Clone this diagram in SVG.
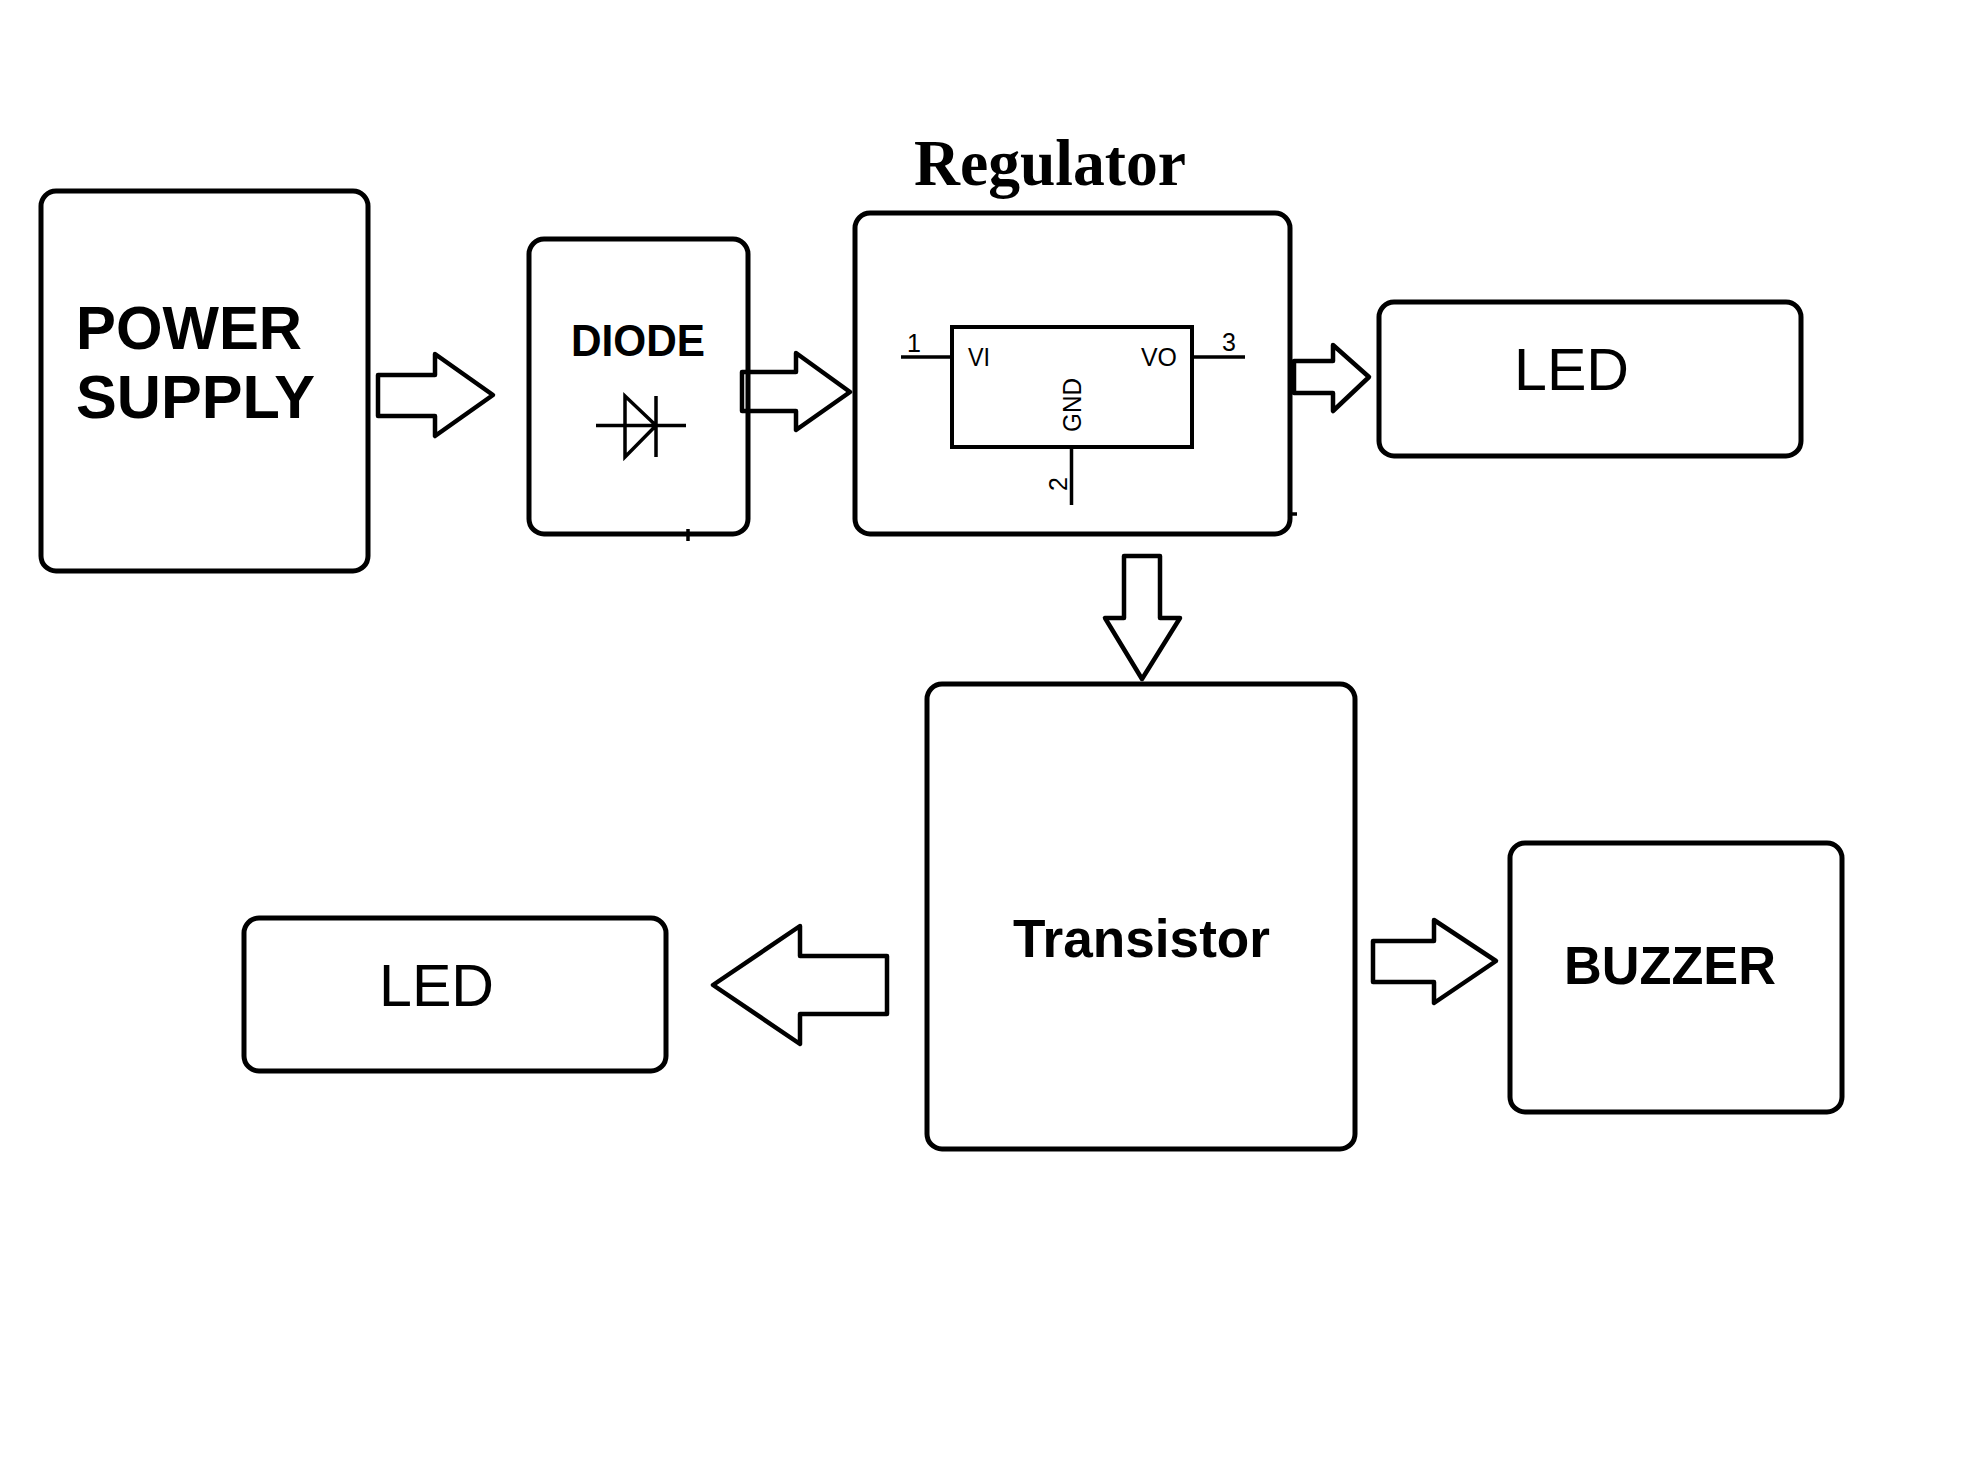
<svg xmlns="http://www.w3.org/2000/svg" width="1968" height="1472" viewBox="0 0 1968 1472">
<style>
.box{fill:none;stroke:#000;stroke-width:5}
.inner{fill:none;stroke:#000;stroke-width:4}
.arrow{fill:none;stroke:#000;stroke-width:4.500;stroke-linejoin:round}
.ln{fill:none;stroke:#000;stroke-width:3.500}
text{font-family:"Liberation Sans",Arial,sans-serif;fill:#000}
.b{font-weight:bold}
.s{font-size:25px}
</style>
<rect width="1968" height="1472" fill="#fff"/>
<g id="node-power"><rect class="box" x="41" y="191" width="327" height="380" rx="15"/>
<text class="b" x="76" y="349" font-size="62" textLength="226" lengthAdjust="spacingAndGlyphs">POWER</text>
<text class="b" x="76" y="418" font-size="62" textLength="239" lengthAdjust="spacingAndGlyphs">SUPPLY</text></g>
<g id="node-diode"><rect class="box" x="529" y="239" width="219" height="295" rx="15"/>
<text class="b" x="571" y="356" font-size="45" textLength="134" lengthAdjust="spacingAndGlyphs">DIODE</text>
<path class="ln" d="M596 425.500H686M625 396V457L656 425.500ZM656 396V457"/>
<path class="ln" d="M688 529V541"/></g>
<g id="node-regulator"><text x="914" y="185" font-size="66" font-weight="bold" style="font-family:'Liberation Serif',serif" textLength="272" lengthAdjust="spacingAndGlyphs">Regulator</text>
<rect class="box" x="855" y="213" width="435" height="321" rx="15"/>
<path class="ln" d="M1290 514H1297"/>
<rect class="inner" x="952" y="327" width="240" height="120"/>
<path class="ln" d="M901 357H952M1192 357H1245M1071.500 447V505"/>
<text class="s" x="907" y="352">1</text>
<text class="s" x="1222" y="351">3</text>
<text class="s" x="968" y="366" textLength="22" lengthAdjust="spacingAndGlyphs">VI</text>
<text class="s" x="1141" y="366" textLength="36" lengthAdjust="spacingAndGlyphs">VO</text>
<text class="s" transform="translate(1081 432) rotate(-90)" textLength="54" lengthAdjust="spacingAndGlyphs">GND</text>
<text class="s" transform="translate(1067 491) rotate(-90)">2</text></g>
<g id="node-led1"><rect class="box" x="1379" y="302" width="422" height="154" rx="15"/>
<text x="1514" y="390" font-size="60" textLength="115" lengthAdjust="spacingAndGlyphs">LED</text></g>
<g id="node-transistor"><rect class="box" x="927" y="684" width="428" height="465" rx="15"/>
<text class="b" x="1013" y="957" font-size="54" textLength="257" lengthAdjust="spacingAndGlyphs">Transistor</text></g>
<g id="node-buzzer"><rect class="box" x="1510" y="843" width="332" height="269" rx="15"/>
<text class="b" x="1564" y="984" font-size="54" textLength="212" lengthAdjust="spacingAndGlyphs">BUZZER</text></g>
<g id="node-led2"><rect class="box" x="244" y="918" width="422" height="153" rx="15"/>
<text x="379" y="1006" font-size="60" textLength="115" lengthAdjust="spacingAndGlyphs">LED</text></g>
<g id="connectors">
<path class="arrow" d="M378 375H435V354L493 395L435 436V416H378Z"/>
<path class="arrow" d="M742 372H796V353L850 392L796 430V411H742Z"/>
<path class="arrow" d="M1294 361H1333V345L1369 377L1333 411V393H1294Z"/>
<path class="arrow" d="M1124 556H1160V618H1180L1142 679L1105 618H1124Z"/>
<path class="arrow" d="M887 956H800V926L713 985L800 1044V1014H887Z"/>
<path class="arrow" d="M1373 941H1434V920L1496 961L1434 1003V982H1373Z"/>
</g>
</svg>
